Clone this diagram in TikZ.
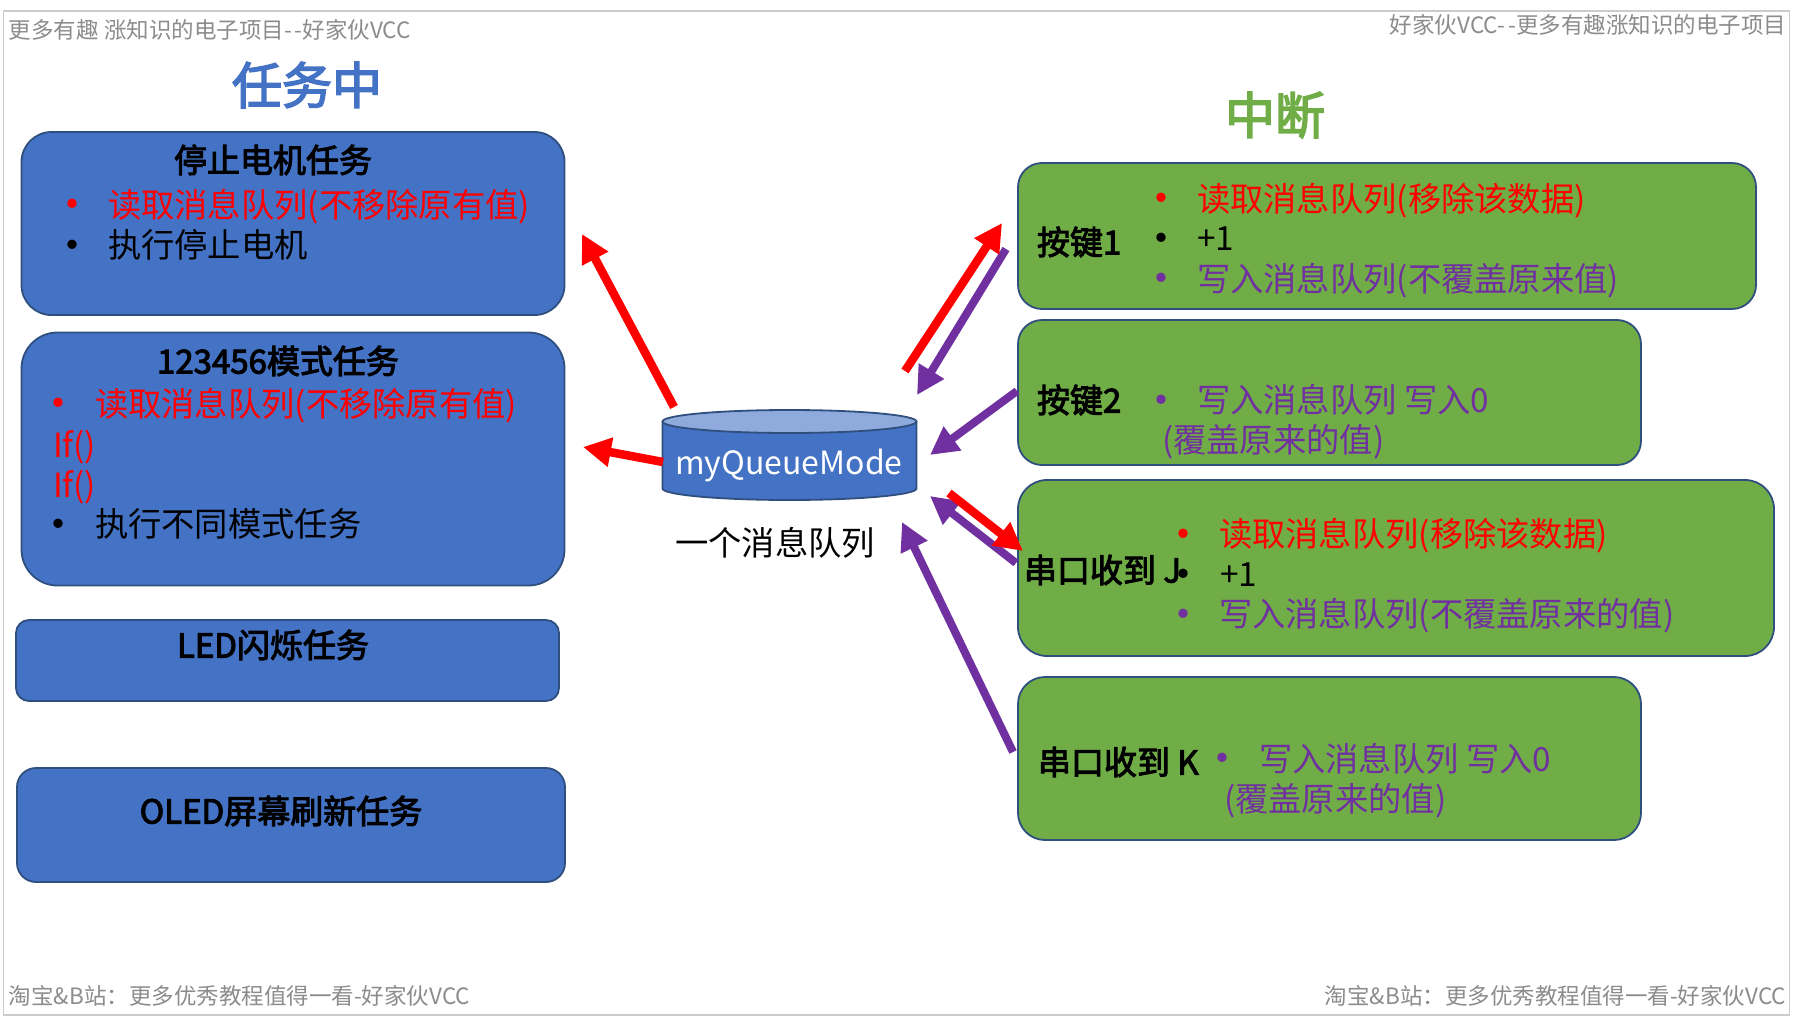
\documentclass[tikz,border=0pt]{standalone}
\usepackage{fontspec}
\setmainfont{Noto Sans CJK SC}
\newfontfamily\heavyfont[FakeBold=3]{Noto Sans CJK SC}
\usetikzlibrary{arrows.meta}
\definecolor{bfill}{HTML}{4472C4}
\definecolor{gfill}{HTML}{70AD47}
\definecolor{edgeb}{HTML}{2F4F7F}
\definecolor{purp}{HTML}{7030A0}
\definecolor{redx}{HTML}{FF0000}
\definecolor{greyt}{HTML}{8C8C8C}
\definecolor{topc}{HTML}{8FAADC}
\tikzset{
  txt/.style={inner sep=0pt,outer sep=0pt,text height=30pt,text depth=5pt,anchor=west,font=\fontsize{33.3}{40}\selectfont},
  ctr/.style={txt,anchor=center},
  hd/.style={ctr,font=\fontsize{33}{40}\selectfont\heavyfont},
  lab/.style={txt,font=\fontsize{33}{40}\selectfont\heavyfont},
  bul/.style={ctr,text height=36pt,text depth=3pt,font=\fontsize{44}{50}\selectfont},
  note/.style={txt,text height=20pt,text depth=3pt,text=greyt,font=\fontsize{22.5}{26}\selectfont},
  title/.style={ctr,text height=45pt,text depth=7pt,font=\fontsize{50}{60}\selectfont\heavyfont},
  bbox/.style={draw=edgeb,line width=1.8pt,fill=bfill,anchor=north west,inner sep=0pt,outer sep=0pt},
  gbox/.style={draw=edgeb,line width=1.8pt,fill=gfill,anchor=north west,inner sep=0pt,outer sep=0pt},
  red arrow/.style={draw=redx,line width=8.5pt,-{Triangle[length=28pt,width=28pt,fill=redx]}},
  purple arrow/.style={draw=purp,line width=8pt,-{Triangle[length=28pt,width=28pt,fill=purp]}},
}
\begin{document}
\begin{tikzpicture}[x=1pt,y=-1pt]
\useasboundingbox (0,0) rectangle (1797,1025);
\fill[white] (0,0) rectangle (1797,1025);
\draw[draw=black!20,line width=1.5pt] (3.5,11) rectangle (1789.5,1015);
% headers and footers
\node[note] (tl) at (9,30) {更多有趣 涨知识的电子项目-\kern3pt-好家伙VCC};
\node[note,anchor=east] (tr) at (1786,25) {好家伙VCC-\kern3pt-更多有趣涨知识的电子项目};
\node[note] (bl) at (9,996) {淘宝\&B站：更多优秀教程值得一看-好家伙VCC};
\node[note,anchor=east] (br) at (1786,996) {淘宝\&B站：更多优秀教程值得一看-好家伙VCC};
% titles
\node[title,text=bfill] (t1) at (307,85) {任务中};
\node[title,text=gfill] (t2) at (1275,115) {中断};
% left boxes
\node[bbox,rounded corners=30pt,minimum width=543pt,minimum height=183pt] (stop) at (21.5,132) {};
\node[bbox,rounded corners=36pt,minimum width=543pt,minimum height=253pt] (mode) at (21.5,332.5) {};
\node[bbox,rounded corners=13pt,minimum width=543pt,minimum height=81pt] (led) at (16,620) {};
\node[bbox,rounded corners=19pt,minimum width=548pt,minimum height=114pt] (oled) at (17,768) {};
% stop text
\node[hd] (s0) at (273,160) {停止电机任务};
\node[bul,text=redx] (s1b) at (72,204) {•};
\node[txt,text=redx] (s1) at (108,205) {读取消息队列(不移除原有值)};
\node[bul] (s2b) at (72,245) {•};
\node[txt] (s2) at (108,245) {执行停止电机};
% mode text
\node[hd] (m0) at (278,361) {123456模式任务};
\node[bul,text=redx] (m1b) at (58,403) {•};
\node[txt,text=redx] (m1) at (95,404) {读取消息队列(不移除原有值)};
\node[txt,text=redx] (m2) at (53,445) {If()};
\node[txt,text=redx] (m3) at (53,485) {If()};
\node[bul] (m4b) at (58,524) {•};
\node[txt] (m4) at (95,524) {执行不同模式任务};
\node[hd] (l0) at (273,645) {LED闪烁任务};
\node[hd] (o0) at (281,811) {OLED屏幕刷新任务};
% queue
\fill[bfill] (662.5,421.5) -- (662.5,488.5) arc[start angle=180,end angle=360,x radius=127pt,y radius=11.5pt] -- (916.5,421.5) -- cycle;
\draw[draw=edgeb,line width=1.8pt] (662.5,421.5) -- (662.5,488.5) arc[start angle=180,end angle=360,x radius=127pt,y radius=11.5pt] -- (916.5,421.5);
\draw[draw=edgeb,line width=1.8pt,fill=topc] (789.5,421.5) ellipse[x radius=127pt,y radius=11.5pt];
\node[ctr,text=white,font=\fontsize{32}{38}\selectfont] (queue) at (789,462) {myQueueMode};
\node[ctr] (qcap) at (775,543) {一个消息队列};
% right boxes
\node[gbox,rounded corners=24pt,minimum width=738pt,minimum height=146pt] (k1) at (1018,163) {};
\node[gbox,rounded corners=24pt,minimum width=623pt,minimum height=145pt] (k2) at (1018,320) {};
\node[gbox,rounded corners=29pt,minimum width=756pt,minimum height=176pt] (uj) at (1018,480) {};
\node[gbox,rounded corners=27pt,minimum width=623pt,minimum height=163pt] (uk) at (1018,677) {};
% key 1
\node[lab] (k1l) at (1037,242) {按键1};
\node[bul,text=redx] (k1ab) at (1161,198) {•};
\node[txt,text=redx] (k1a) at (1197,199) {读取消息队列(移除该数据)};
\node[bul] (k1bb) at (1161,238) {•};
\node[txt] (k1b) at (1197,238) {+1};
\node[bul,text=purp] (k1cb) at (1161,278) {•};
\node[txt,text=purp] (k1c) at (1197,279) {写入消息队列(不覆盖原来值)};
% key 2
\node[lab] (k2l) at (1037,400) {按键2};
\node[bul,text=purp] (k2ab) at (1161,400) {•};
\node[txt,text=purp] (k2a) at (1197,400) {写入消息队列 写入0};
\node[txt,text=purp] (k2b) at (1162,440) {(覆盖原来的值)};
% uart J
\node[lab] (ujl) at (1024,570) {串口收到 J};
\node[bul,text=redx] (ujab) at (1183,534) {•};
\node[txt,text=redx] (uja) at (1219,534) {读取消息队列(移除该数据)};
\node[bul] (ujbb) at (1183,574) {•};
\node[txt] (ujb) at (1220,574) {+1};
\node[bul,text=purp] (ujcb) at (1183,614) {•};
\node[txt,text=purp] (ujc) at (1219,614) {写入消息队列(不覆盖原来的值)};
% uart K
\node[lab] (ukl) at (1038,762) {串口收到 K};
\node[bul,text=purp] (ukab) at (1222,758) {•};
\node[txt,text=purp] (uka) at (1259,759) {写入消息队列 写入0};
\node[txt,text=purp] (ukb) at (1224,799) {(覆盖原来的值)};
% connector ends
\coordinate (a1s) at (674,407); \coordinate (a1e) at (582,234);
\coordinate (a2s) at (663,462); \coordinate (a2e) at (583,447);
\coordinate (a3s) at (905,371); \coordinate (a3e) at (1002,223);
\coordinate (a4s) at (1006,249); \coordinate (a4e) at (917,395);
\coordinate (a5s) at (1017,391); \coordinate (a5e) at (930,455);
\coordinate (a6s) at (949,493); \coordinate (a6e) at (1023,551);
\coordinate (a7s) at (1016,563); \coordinate (a7e) at (930,496);
\coordinate (a8s) at (1013,752); \coordinate (a8e) at (902,522);
\draw[purple arrow] (a4s) -- (a4e);
\draw[red arrow] (a3s) -- (a3e);
\draw[red arrow] (a1s) -- (a1e);
\draw[red arrow] (a2s) -- (a2e);
\draw[purple arrow] (a5s) -- (a5e);
\draw[purple arrow] (a7s) -- (a7e);
\draw[red arrow] (a6s) -- (a6e);
\draw[purple arrow] (a8s) -- (a8e);
\end{tikzpicture}
\end{document}
